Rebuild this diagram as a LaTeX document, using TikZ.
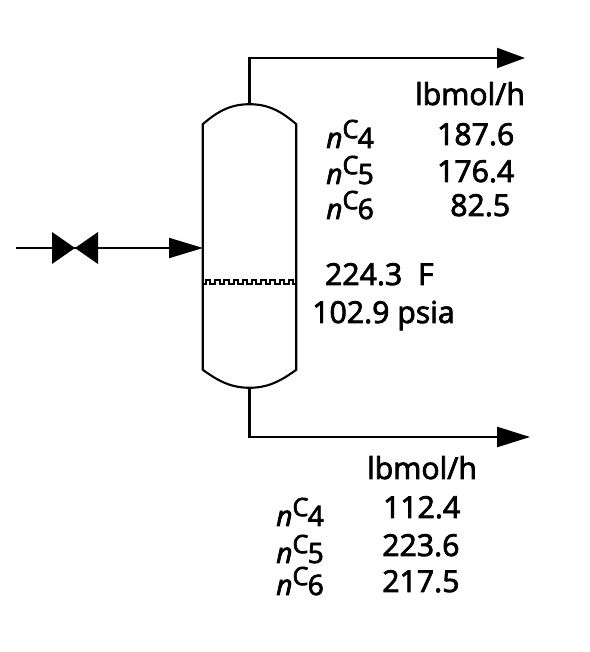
\documentclass[tikz,border=0pt]{standalone}
\usepackage{fontspec}
\setmainfont{Open Sans}[FakeBold=2.6]
\usepackage{tikz}
\usetikzlibrary{arrows.meta,positioning,calc}
\newcommand{\ncomp}[1]{{\fontsize{20}{24}\selectfont\itshape n\raisebox{7pt}{\upshape\fontsize{18}{24}\selectfont C}\kern-0.5pt\upshape #1}}
\tikzset{
  pipe/.style={line width=1.5pt},
  pipearrow/.style={pipe,-{Triangle[length=#1,width=0.5cm]}},
  pipearrow/.default=0.8cm,
  vesselline/.style={line width=1.5pt},
  datalabel/.style={anchor=base west,inner sep=0pt,font=\fontsize{21.5}{26}\selectfont},
  complabel/.style={anchor=base west,inner sep=0pt}
}
\begin{document}
\begin{tikzpicture}[x=1cm,y=1cm]
  \useasboundingbox (0,0) rectangle (14.75,16.3);
  \node[minimum width=2.325cm,minimum height=6.125cm,inner sep=0pt] (column) at (6.2375,10.125) {};
  \coordinate (feed) at (0.4,10.1);
  \coordinate (valve) at (1.875,10.1);
  \coordinate (inlet) at (5.075,10.1);
  \coordinate (topout) at (13.125,14.85);
  \coordinate (botout) at (13.25,5.375);
  % vessel
  \draw[vesselline] (column.north west)
    .. controls ($(column.north west)+(0.35,0.3)$) and ($(column.north)+(-0.5,0.5)$) .. ($(column.north)+(0,0.5)$)
    .. controls ($(column.north)+(0.5,0.5)$) and ($(column.north east)+(-0.35,0.3)$) .. (column.north east)
    -- (column.south east)
    .. controls ($(column.south east)+(-0.35,-0.25)$) and ($(column.south)+(0.5,-0.45)$) .. ($(column.south)+(0,-0.45)$)
    .. controls ($(column.south)+(-0.5,-0.45)$) and ($(column.south west)+(0.35,-0.25)$) .. (column.south west)
    -- cycle;
  % tray
  \draw[line width=1.4pt] (5.1,9.2)
    \foreach \t in {0,...,9} { -- ++(0.05,0) -- ++(0,0.1) -- ++(0.11,0) -- ++(0,-0.1) -- ++(0.07,0) };
  % streams
  \draw[pipe] (feed) -- (valve);
  \draw[pipearrow=0.85cm] (valve) -- (inlet);
  \fill (valve) -- ++(-0.575,0.4) -- ++(0,-0.8) -- cycle;
  \fill (valve) -- ++(0.575,0.4) -- ++(0,-0.8) -- cycle;
  \draw[pipearrow=0.7cm] ($(column.north)+(0,0.5)$) |- (topout);
  \draw[pipearrow=0.82cm] ($(column.south)+(0,-0.45)$) |- (botout);
  % top product
  \node[datalabel] (topunit) at (10.37,13.675) {lbmol/h};
  \node[complabel] (topc4) at (8.15,12.6) {\ncomp{4}};
  \node[complabel] (topc5) at (8.15,11.7) {\ncomp{5}};
  \node[complabel] (topc6) at (8.15,10.825) {\ncomp{6}};
  \node[datalabel] (topn4) at (10.92,12.675) {187.6};
  \node[datalabel] (topn5) at (10.92,11.75) {176.4};
  \node[datalabel] (topn6) at (11.25,10.9) {82.5};
  % conditions
  \node[datalabel] (temp) at (8.12,9.175) {224.3\ \ F};
  \node[datalabel] (pres) at (7.8,8.225) {102.9 psia};
  % bottom product
  \node[datalabel] (botunit) at (9.17,4.325) {lbmol/h};
  \node[complabel] (botc4) at (6.9,3.15) {\ncomp{4}};
  \node[complabel] (botc5) at (6.9,2.225) {\ncomp{5}};
  \node[complabel] (botc6) at (6.9,1.425) {\ncomp{6}};
  \node[datalabel] (botn4) at (9.57,3.35) {112.4};
  \node[datalabel] (botn5) at (9.55,2.4) {223.6};
  \node[datalabel] (botn6) at (9.55,1.5) {217.5};
\end{tikzpicture}
\end{document}
